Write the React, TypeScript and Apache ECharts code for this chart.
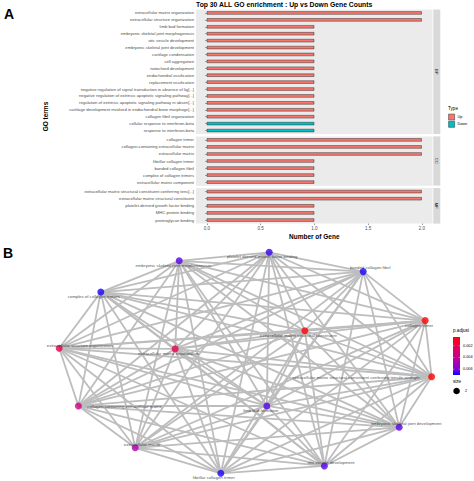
import React, { useEffect, useRef } from 'react';
import * as echarts from 'echarts';

const FONT = '"Liberation Sans", Arial, Helvetica, sans-serif';

// ---------- Panel A data ----------
const bpTerms = [
  'extracellular matrix organization',
  'extracellular structure organization',
  'limb bud formation',
  'embryonic skeletal joint morphogenesis',
  'otic vesicle development',
  'embryonic skeletal joint development',
  'cartilage condensation',
  'cell aggregation',
  'notochord development',
  'endochondral ossification',
  'replacement ossification',
  'negative regulation of signal transduction in absence of lig[...]',
  'negative regulation of extrinsic apoptotic signaling pathway[...]',
  'regulation of extrinsic apoptotic signaling pathway in absen[...]',
  'cartilage development involved in endochondral bone morphoge[...]',
  'collagen fibril organization',
  'cellular response to interferon-beta',
  'response to interferon-beta',
];
const bpCounts = [2, 2, 1, 1, 1, 1, 1, 1, 1, 1, 1, 1, 1, 1, 1, 1, 1, 1];
const bpTypes = ['Up', 'Up', 'Up', 'Up', 'Up', 'Up', 'Up', 'Up', 'Up', 'Up', 'Up', 'Up', 'Up', 'Up', 'Up', 'Up', 'Down', 'Down'];

const ccTerms = [
  'collagen trimer',
  'collagen-containing extracellular matrix',
  'extracellular matrix',
  'fibrillar collagen trimer',
  'banded collagen fibril',
  'complex of collagen trimers',
  'extracellular matrix component',
];
const ccCounts = [2, 2, 2, 1, 1, 1, 1];
const ccTypes = ['Up', 'Up', 'Up', 'Up', 'Up', 'Up', 'Up'];

const mfTerms = [
  'extracellular matrix structural constituent conferring tens[...]',
  'extracellular matrix structural constituent',
  'platelet-derived growth factor binding',
  'MHC protein binding',
  'proteoglycan binding',
];
const mfCounts = [2, 2, 1, 1, 1];
const mfTypes = ['Up', 'Up', 'Up', 'Up', 'Up'];

const facetLabels = ['BP', 'CC', 'MF'];
const xTicks = [0, 0.5, 1, 1.5, 2];
const typeLevels = ['Up', 'Down'];

// ---------- Panel B data (network layout coordinates, p.adjust) ----------
const nodeNames = [
  'platelet-derived growth factor binding',
  'embryonic skeletal joint morphogenesis',
  'banded collagen fibril',
  'complex of collagen trimers',
  'collagen trimer',
  'extracellular matrix structural constituent',
  'extracellular structure organization',
  'extracellular matrix organization',
  'extracellular matrix structural constituent conferring tensile strength',
  'collagen-containing extracellular matrix',
  'limb bud formation',
  'embryonic skeletal joint development',
  'extracellular matrix',
  'otic vesicle development',
  'fibrillar collagen trimer',
];
const nodeX = [57.3, 34.8, 80.8, 15.2, 96.3, 66.2, 4.8, 33.8, 97.9, 9.6, 56.7, 89.8, 23.8, 71.1, 45.2];
const nodeY = [99.0, 95.3, 90.6, 81.7, 69.3, 64.9, 57.3, 57.0, 44.9, 32.2, 32.2, 22.9, 14.0, 6.1, 2.9];
const nodePadj = [0.0066, 0.0064, 0.0068, 0.0068, 0.0006, 0.0006, 0.0021, 0.0021, 0.0005, 0.0036, 0.0064, 0.0064, 0.0048, 0.0064, 0.0068];
const nodeGeneCount = [2, 2, 2, 2, 2, 2, 2, 2, 2, 2, 2, 2, 2, 2, 2];
const pTicks = [0.002, 0.004, 0.006];
const sizeBreaks = [2];

// ---------- styling ----------
const typeColors: Record<string, string> = { Up: '#F8766D', Down: '#00BFC4' };
const P_MIN = 0.0005;
const P_MAX = 0.007;
const pColors = ['#FF0000', '#F40031', '#E80050', '#DA006C', '#C90088', '#B500A5', '#9A00C3', '#7300E0', '#0000FF'];
// label offsets (px) relative to node centres
const labelOffsets: number[][] = [
  [-7, 4.4], [-6, 4.3], [7, -4], [-7, 4.7], [-6, 4.6], [-6.5, 4.3], [20.5, -3], [-6.6, 4.3],
  [-75.7, 1], [46, 0.7], [-6, 4.3], [7, -3.6], [6.7, -3], [6.7, -3.7], [-7, 3.7],
];

const U = 6.84;
const PANEL_TOP = 9.5;
const GAP = 2.4;
const PANEL_LEFT = 196;
const PANEL_W = 236.5;

export default function App() {
  const ref = useRef<HTMLDivElement>(null);

  useEffect(() => {
    if (!ref.current) return;
    const chart = echarts.init(ref.current, undefined, { renderer: 'svg' });

    const facets = [
      { terms: bpTerms, counts: bpCounts, types: bpTypes },
      { terms: ccTerms, counts: ccCounts, types: ccTypes },
      { terms: mfTerms, counts: mfCounts, types: mfTypes },
    ];
    const panels: { top: number; height: number }[] = [];
    let y = PANEL_TOP;
    facets.forEach((f) => {
      const h = (f.terms.length + 0.2) * U;
      panels.push({ top: y, height: h });
      y += h + GAP;
    });

    const grids: any[] = panels.map((p) => ({
      left: PANEL_LEFT,
      top: p.top,
      width: PANEL_W,
      height: p.height,
      show: true,
      backgroundColor: '#EBEBEB',
      borderWidth: 0,
    }));
    grids.push({ left: 40, top: 250, width: 400, height: 230, show: false });

    const xAxes: any[] = facets.map((_, i) => {
      const last = i === facets.length - 1;
      return {
        type: 'value',
        gridIndex: i,
        min: -0.1,
        max: 2.1,
        axisLine: { show: false },
        splitLine: { show: false },
        axisTick: {
          show: last,
          length: 1.5,
          lineStyle: { color: '#333333', width: 0.5 },
          customValues: xTicks,
        },
        axisLabel: {
          show: last,
          customValues: xTicks,
          formatter: (v: number) => v.toFixed(1),
          fontSize: 4.5,
          color: '#4D4D4D',
          fontFamily: FONT,
          margin: 2,
        },
        name: last ? 'Number of Gene' : '',
        nameLocation: 'middle',
        nameGap: 9,
        nameTextStyle: { fontSize: 6.5, fontWeight: 'bold', color: '#000', fontFamily: FONT },
      };
    });
    xAxes.push({ type: 'value', gridIndex: 3, min: 0, max: 100, show: false });

    const yAxes: any[] = facets.map((f, i) => ({
      type: 'category',
      gridIndex: i,
      data: f.terms,
      inverse: true,
      axisLine: { show: false },
      splitLine: { show: false },
      axisTick: { show: true, alignWithLabel: true, length: 1.5, lineStyle: { color: '#333333', width: 0.5 } },
      axisLabel: { interval: 0, fontSize: 4.2, color: '#4D4D4D', fontFamily: FONT, margin: 2 },
    }));
    yAxes.push({ type: 'value', gridIndex: 3, min: 0, max: 100, show: false });

    const series: any[] = facets.map((f, i) => ({
      type: 'bar',
      xAxisIndex: i,
      yAxisIndex: i,
      barWidth: 3.2,
      silent: true,
      data: f.counts.map((v, k) => ({
        value: v,
        itemStyle: { color: typeColors[f.types[k]], borderColor: '#333333', borderWidth: 0.5 },
      })),
    }));

    // network edges: every pair of terms
    const edges: any[] = [];
    for (let a = 0; a < nodeNames.length; a++) {
      for (let b = a + 1; b < nodeNames.length; b++) {
        edges.push({ coords: [[nodeX[a], nodeY[a]], [nodeX[b], nodeY[b]]] });
      }
    }
    series.push({
      type: 'lines',
      coordinateSystem: 'cartesian2d',
      xAxisIndex: 3,
      yAxisIndex: 3,
      silent: true,
      z: 2,
      lineStyle: { color: '#BDBDBD', width: 1.8, opacity: 1, curveness: 0 },
      data: edges,
    });
    series.push({
      type: 'scatter',
      xAxisIndex: 3,
      yAxisIndex: 3,
      silent: true,
      z: 3,
      symbolSize: 7,
      data: nodeNames.map((n, i) => ({
        name: n,
        value: [nodeX[i], nodeY[i], nodePadj[i], nodeGeneCount[i]],
        label: { offset: labelOffsets[i] },
      })),
      label: {
        show: true,
        position: 'inside',
        formatter: (p: any) => p.name,
        fontSize: 4.3,
        color: '#222222',
        fontFamily: FONT,
        textBorderWidth: 0,
      },
    });

    const seriesScatterIndex = series.length - 1;

    // ---- graphic elements ----
    const graphic: any[] = [];
    graphic.push({
      type: 'text', x: PANEL_LEFT, y: 1,
      style: { text: 'Top 30 ALL GO enrichment : Up vs Down Gene Counts', fontSize: 6.8, fontWeight: 'bold', fontFamily: FONT, fill: '#000', align: 'left', verticalAlign: 'top' },
    });
    graphic.push({
      type: 'text', x: 4, y: 7,
      style: { text: 'A', fontSize: 14, fontWeight: 'bold', fontFamily: FONT, fill: '#000', align: 'left', verticalAlign: 'top' },
    });
    graphic.push({
      type: 'text', x: 3, y: 246,
      style: { text: 'B', fontSize: 14, fontWeight: 'bold', fontFamily: FONT, fill: '#000', align: 'left', verticalAlign: 'top' },
    });
    const panelsBottom = panels[2].top + panels[2].height;
    graphic.push({
      type: 'text', x: 45, y: (PANEL_TOP + panelsBottom) / 2, rotation: Math.PI / 2,
      style: { text: 'GO terms', fontSize: 6.5, fontWeight: 'bold', fontFamily: FONT, fill: '#000', align: 'center', verticalAlign: 'middle' },
    });
    // strips
    panels.forEach((p, i) => {
      graphic.push({
        type: 'rect', shape: { x: PANEL_LEFT + PANEL_W + 0.8, y: p.top, width: 7, height: p.height },
        style: { fill: '#D9D9D9' },
      });
      graphic.push({
        type: 'text', x: PANEL_LEFT + PANEL_W + 4.3, y: p.top + p.height / 2, rotation: -Math.PI / 2,
        style: { text: facetLabels[i], fontSize: 4.2, fontFamily: FONT, fill: '#1A1A1A', align: 'center', verticalAlign: 'middle' },
      });
    });
    // Type legend
    graphic.push({
      type: 'text', x: 448, y: 106,
      style: { text: 'Type', fontSize: 4.6, fontFamily: FONT, fill: '#000', align: 'left', verticalAlign: 'top' },
    });
    typeLevels.forEach((t, i) => {
      const ky = 113.5 + i * 7.2;
      graphic.push({ type: 'rect', shape: { x: 448, y: ky, width: 7.2, height: 7.2 }, style: { fill: '#F2F2F2' } });
      graphic.push({
        type: 'rect', shape: { x: 448.6, y: ky + 0.6, width: 6, height: 6 },
        style: { fill: typeColors[t], stroke: '#333333', lineWidth: 0.5 },
      });
      graphic.push({
        type: 'text', x: 457.5, y: ky + 3.6,
        style: { text: t, fontSize: 3.8, fontFamily: FONT, fill: '#000', align: 'left', verticalAlign: 'middle' },
      });
    });
    // p.adjust colorbar
    const cbX = 453, cbY = 337, cbW = 7, cbH = 38;
    graphic.push({
      type: 'text', x: cbX, y: cbY - 4,
      style: { text: 'p.adjust', fontSize: 4.6, fontFamily: FONT, fill: '#000', align: 'left', verticalAlign: 'bottom' },
    });
    graphic.push({
      type: 'rect', shape: { x: cbX, y: cbY, width: cbW, height: cbH },
      style: {
        fill: new echarts.graphic.LinearGradient(0, 0, 0, 1,
          pColors.map((c, i) => ({ offset: i / (pColors.length - 1), color: c }))),
      },
    });
    pTicks.forEach((v) => {
      const ty = cbY + ((v - P_MIN) / (P_MAX - P_MIN)) * cbH;
      graphic.push({ type: 'line', shape: { x1: cbX, y1: ty, x2: cbX + 1.4, y2: ty }, style: { stroke: '#fff', lineWidth: 0.4 } });
      graphic.push({ type: 'line', shape: { x1: cbX + cbW - 1.4, y1: ty, x2: cbX + cbW, y2: ty }, style: { stroke: '#fff', lineWidth: 0.4 } });
      graphic.push({
        type: 'text', x: cbX + cbW + 3, y: ty,
        style: { text: v.toFixed(3), fontSize: 3.8, fontFamily: FONT, fill: '#000', align: 'left', verticalAlign: 'middle' },
      });
    });
    // size legend
    graphic.push({
      type: 'text', x: cbX, y: 379,
      style: { text: 'size', fontSize: 4.6, fontFamily: FONT, fill: '#000', align: 'left', verticalAlign: 'top' },
    });
    sizeBreaks.forEach((s, i) => {
      const sy = 391 + i * 8;
      graphic.push({ type: 'circle', shape: { cx: cbX + 3.6, cy: sy, r: 3.3 }, style: { fill: '#000' } });
      graphic.push({
        type: 'text', x: cbX + cbW + 5, y: sy,
        style: { text: String(s), fontSize: 3.8, fontFamily: FONT, fill: '#000', align: 'left', verticalAlign: 'middle' },
      });
    });

    chart.setOption({
      animation: false,
      backgroundColor: '#FFFFFF',
      textStyle: { fontFamily: FONT },
      grid: grids,
      xAxis: xAxes,
      yAxis: yAxes,
      visualMap: {
        show: false,
        type: 'continuous',
        seriesIndex: seriesScatterIndex,
        dimension: 2,
        min: P_MIN,
        max: P_MAX,
        inRange: { color: pColors },
      },
      series,
      graphic,
    });

    return () => chart.dispose();
  }, []);

  return <div ref={ref} style={{ width: 474, height: 481, position: 'absolute', left: 0, top: 0 }} />;
}
